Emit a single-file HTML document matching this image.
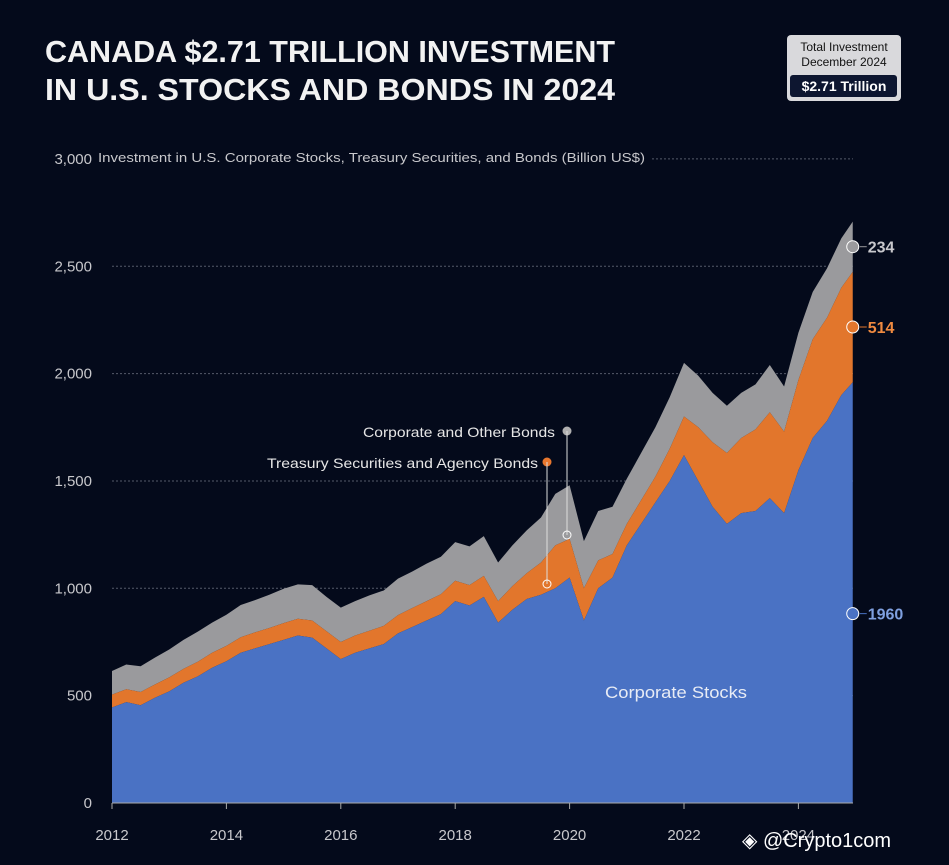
<!DOCTYPE html>
<html><head><meta charset="utf-8"><style>
body{margin:0;background:#050a1c;width:949px;height:865px;overflow:hidden;font-family:"Liberation Sans",sans-serif;}
</style></head><body>
<svg width="949" height="865" viewBox="0 0 949 865" style="display:block">
<rect width="949" height="865" fill="#040a1b"/>
<text x="45" y="62" fill="#f2f2f2" font-size="31" font-weight="bold" textLength="570" lengthAdjust="spacingAndGlyphs">CANADA $2.71 TRILLION INVESTMENT</text>
<text x="45" y="100" fill="#f2f2f2" font-size="31" font-weight="bold" textLength="570" lengthAdjust="spacingAndGlyphs">IN U.S. STOCKS AND BONDS IN 2024</text>
<g>
<rect x="787" y="35" width="114" height="66" rx="4" fill="#d9d9dc"/>
<text x="844" y="51" fill="#111" font-size="12" text-anchor="middle">Total Investment</text>
<text x="844" y="66" fill="#111" font-size="12" text-anchor="middle">December 2024</text>
<rect x="790" y="75" width="107" height="22" rx="3" fill="#0d1630"/>
<text x="844" y="91" fill="#fff" font-size="14" font-weight="bold" text-anchor="middle">$2.71 Trillion</text>
</g>
<g id="grid"></g>
<g id="areas"></g>
<g id="labels"></g>
<rect x="96" y="148" width="556" height="20" fill="#040a1b"/>
<text x="98" y="162" fill="#c8c8cc" font-size="13" textLength="547" lengthAdjust="spacingAndGlyphs">Investment in U.S. Corporate Stocks, Treasury Securities, and Bonds (Billion US$)</text>
<text x="605" y="698" fill="#e8ecf5" font-size="17" textLength="142" lengthAdjust="spacingAndGlyphs">Corporate Stocks</text>
<g>
<text x="555" y="437" fill="#e6e6e6" font-size="14" text-anchor="end" textLength="192" lengthAdjust="spacingAndGlyphs">Corporate and Other Bonds</text>
<circle cx="567" cy="431" r="4.5" fill="#b0b0b0"/>
<line x1="567" y1="431" x2="567" y2="535" stroke="#ddd"/>
<circle cx="567" cy="535" r="4" fill="none" stroke="#fff"/>
<text x="538" y="468" fill="#e6e6e6" font-size="14" text-anchor="end" textLength="271" lengthAdjust="spacingAndGlyphs">Treasury Securities and Agency Bonds</text>
<circle cx="547" cy="462" r="4.5" fill="#e8772e"/>
<line x1="547" y1="462" x2="547" y2="584" stroke="#ddd"/>
<circle cx="547" cy="584" r="4" fill="none" stroke="#fff"/>
</g>
<text x="742" y="847" fill="#fff" font-size="20">◈ @Crypto1com</text>
<script>
const years=[2012,2012.25,2012.5,2012.75,2013,2013.25,2013.5,2013.75,2014,2014.25,2014.5,2014.75,2015,2015.25,2015.5,2015.75,2016,2016.25,2016.5,2016.75,2017,2017.25,2017.5,2017.75,2018,2018.25,2018.5,2018.75,2019,2019.25,2019.5,2019.75,2020,2020.25,2020.5,2020.75,2021,2021.25,2021.5,2021.75,2022,2022.25,2022.5,2022.75,2023,2023.25,2023.5,2023.75,2024,2024.25,2024.5,2024.75,2024.95];
const stocks=[445,470,455,490,520,560,590,630,660,700,720,740,760,780,770,720,670,700,720,740,790,820,850,880,940,920,960,840,900,950,970,1000,1050,850,1000,1050,1200,1300,1400,1500,1620,1500,1380,1300,1350,1360,1420,1350,1550,1700,1780,1900,1960];
const treasury=[60,60,62,62,65,65,68,70,72,72,75,75,78,78,80,80,80,80,82,85,85,88,90,92,95,95,98,100,110,120,150,200,180,150,130,110,100,110,120,150,180,250,300,330,350,380,400,380,420,460,480,500,514];
const bonds=[110,115,120,125,130,135,140,140,145,150,150,155,160,160,165,160,160,160,165,165,170,170,175,175,180,180,185,180,190,200,210,240,250,220,230,220,210,220,230,240,250,240,230,220,210,210,220,210,220,220,230,230,234];
const yTicks=[0,500,1000,1500,2000,2500,3000];
const xTicks=[2012,2014,2016,2018,2020,2022,2024];
const ns="http://www.w3.org/2000/svg";
const X=v=>112+(v-2012)*57.2, Y=v=>803-v*0.2147;
const grid=document.getElementById('grid'),areas=document.getElementById('areas'),labels=document.getElementById('labels');
function mk(t,a,p){const e=document.createElementNS(ns,t);for(const k in a)e.setAttribute(k,a[k]);p.appendChild(e);return e;}
yTicks.forEach(v=>{
 if(v>0){const l=mk('line',{x1:112,x2:853,y1:Y(v),y2:Y(v),stroke:'#555a6a','stroke-dasharray':'2 2'},grid);
 
 }
 const t=mk('text',{x:92,y:Y(v)+5,fill:'#c8c8cc','font-size':15,'text-anchor':'end'},labels);t.textContent=v.toLocaleString('en-US');
 
 
});
xTicks.forEach(v=>{
 const t=mk('text',{x:X(v),y:840,fill:'#c8c8cc','font-size':15,'text-anchor':'middle'},labels);t.textContent=v;
 
 
 const k=mk('line',{x1:X(v),x2:X(v),y1:803,y2:809,stroke:'#aaa'},labels);
 
 
});
function area(lo,hi,fill,name){
 let d='M'+years.map((y,i)=>X(y)+','+Y(hi[i])).join('L');
 for(let i=years.length-1;i>=0;i--)d+='L'+X(years[i])+','+Y(lo[i]);
 const p=mk('path',{d:d+'Z',fill:fill},areas);
 
 
}
const zero=years.map(()=>0),s1=stocks,s2=stocks.map((v,i)=>v+treasury[i]),s3=s2.map((v,i)=>v+bonds[i]);
area(s2,s3,'#9a9a9d','area-corporate-bonds');
area(s1,s2,'#e2762c','area-treasury');
area(zero,s1,'#4a72c4','area-corporate-stocks');
mk('line',{x1:112,x2:853,y1:803,y2:803,stroke:'#aaa'},areas);
const last=years.length-1,lx=X(years[last]);
[[stocks[last]*0.45,'#4a72c4',stocks[last],'end-label-stocks'],
 [s1[last]+treasury[last]/2,'#e2762c',treasury[last],'end-label-treasury'],
 [s2[last]+bonds[last]/2,'#9a9a9d',bonds[last],'end-label-bonds']].forEach(([v,c,val,n])=>{
 const g=mk('g',{},labels);
 
 
 mk('circle',{cx:lx,cy:Y(v),r:6,fill:c,stroke:'#fff','stroke-width':1},g);
 mk('line',{x1:lx+7,x2:lx+14,y1:Y(v),y2:Y(v),stroke:c},g);
 const t=mk('text',{x:lx+15,y:Y(v)+6,fill:c==='#4a72c4'?'#7fa0e0':c==='#e2762c'?'#f08a40':'#c8c8cc','font-size':16,'font-weight':'bold'},g);t.textContent=val;
});
</script>
</svg>
</body></html>
